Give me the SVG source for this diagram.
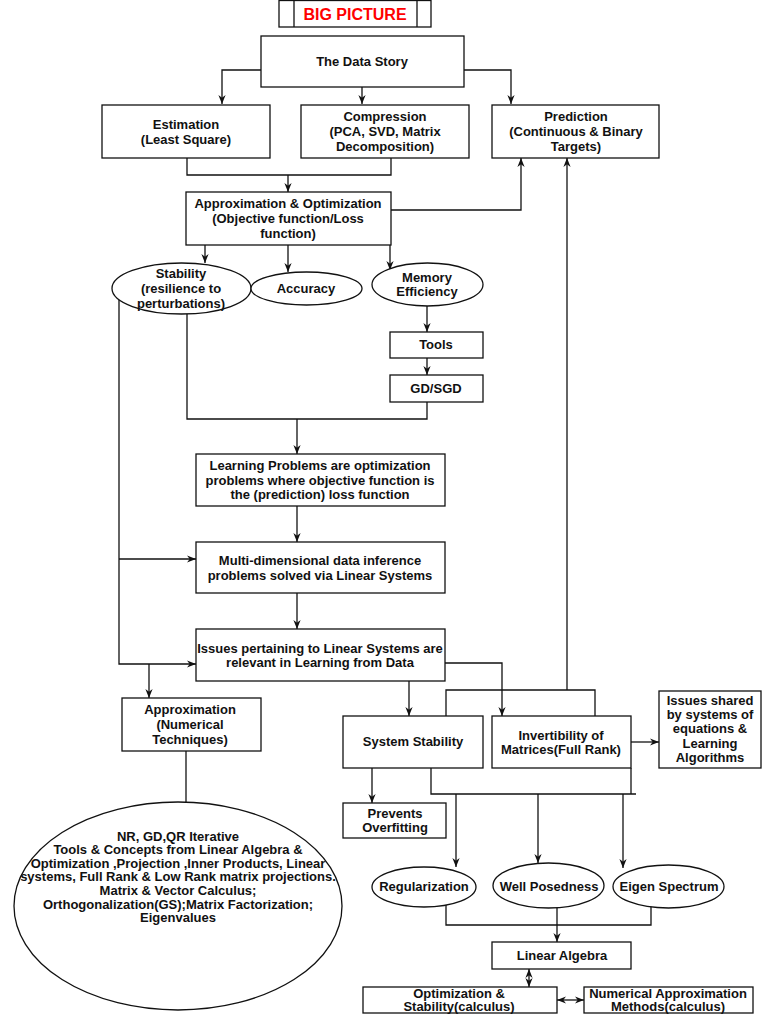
<svg xmlns="http://www.w3.org/2000/svg" width="768" height="1024" viewBox="0 0 768 1024">
<defs>
<marker id="a" viewBox="0 0 10 10" refX="10" refY="5" markerWidth="9" markerHeight="9" markerUnits="userSpaceOnUse" orient="auto-start-reverse">
<path d="M0,1 L10,5 L0,9 L3,5 z" fill="#111"/>
</marker>
<style>
rect,ellipse{fill:#fff;stroke:#111;stroke-width:1.3}
text{font-family:"Liberation Sans",Arial,sans-serif;font-size:13px;font-weight:bold;fill:#111;text-anchor:middle;dominant-baseline:central}
.c path{fill:none;stroke:#111;stroke-width:1.3}
.ar{marker-end:url(#a)}
.da{marker-start:url(#a);marker-end:url(#a)}
.t{font-size:16px;fill:#f00}
</style>
</defs>
<rect width="768" height="1024" style="fill:#fff;stroke:none"/>
<g class="c" id="connectors">
<path class="ar" d="M261,70 H222 V104"/>
<path class="ar" d="M362,87 V104"/>
<path class="ar" d="M464,70 H511 V104"/>
<path d="M187,158 V175 H391 V158"/>
<path class="ar" d="M288,175 V192"/>
<path class="ar" d="M391,210 H521 V158"/>
<path class="ar" d="M567,690 V158"/>
<path class="ar" d="M205,245 V263"/>
<path class="ar" d="M288,245 V272"/>
<path class="ar" d="M390,245 V270"/>
<path class="ar" d="M427,306 V332"/>
<path class="ar" d="M427,358 V375"/>
<path d="M427,402 V419 H187 V314"/>
<path class="ar" d="M297,419 V454"/>
<path class="ar" d="M297,506 V542"/>
<path class="ar" d="M297,593 V629"/>
<path class="ar" d="M119,300 V664 H196"/>
<path class="ar" d="M119,559 H196"/>
<path class="ar" d="M149,664 V698"/>
<path class="ar" d="M445,663 H502 V716"/>
<path class="ar" d="M409,681 V716"/>
<path d="M446,716 V690 H595 V716"/>
<path class="ar" d="M631,742 H659"/>
<path class="ar" d="M372,768 V803"/>
<path d="M431,768 V794 H636"/>
<path d="M631,768 V794"/>
<path class="ar" d="M456,794 V867"/>
<path class="ar" d="M538,794 V863"/>
<path class="ar" d="M623,794 V868"/>
<path d="M446,905 V925 H651 V906"/>
<path class="ar" d="M557,908 V942"/>
<path class="da" d="M529,969 V987"/>
<path class="da" d="M557,1000 H584"/>
<path d="M186,751 V802"/>
</g>
<g id="big-picture">
<rect x="279" y="0.5" width="152" height="26.5"/>
<path d="M294,0.5 V27 M417,0.5 V27" style="stroke:#111;stroke-width:1.3"/>
<text class="t" x="355" y="14">BIG PICTURE</text>
</g>
<g id="data-story">
<rect x="261" y="36" width="203" height="51"/>
<text x="362" y="61">The Data Story</text>
</g>
<g id="estimation">
<rect x="102" y="105" width="168" height="53"/>
<text x="186" y="124">Estimation</text>
<text x="186" y="139">(Least Square)</text>
</g>
<g id="compression">
<rect x="301" y="105" width="168" height="53"/>
<text x="385" y="116">Compression</text>
<text x="385" y="131">(PCA, SVD, Matrix</text>
<text x="385" y="146">Decomposition)</text>
</g>
<g id="prediction">
<rect x="492" y="105" width="167" height="53"/>
<text x="576" y="116">Prediction</text>
<text x="576" y="131">(Continuous &amp; Binary</text>
<text x="576" y="146">Targets)</text>
</g>
<g id="approx-opt">
<rect x="186" y="192" width="205" height="53"/>
<text x="288" y="203">Approximation &amp; Optimization</text>
<text x="288" y="218">(Objective function/Loss</text>
<text x="288" y="233">function)</text>
</g>
<g id="stability">
<ellipse cx="181.5" cy="288.5" rx="69.5" ry="25.5"/>
<text x="181" y="273">Stability</text>
<text x="181" y="288">(resilience to</text>
<text x="181" y="303">perturbations)</text>
</g>
<g id="accuracy">
<ellipse cx="306.5" cy="288.5" rx="55.5" ry="16.5"/>
<text x="306" y="288">Accuracy</text>
</g>
<g id="memory">
<ellipse cx="427.5" cy="284.5" rx="55.5" ry="21.5"/>
<text x="427" y="277">Memory</text>
<text x="427" y="291">Efficiency</text>
</g>
<g id="tools">
<rect x="390" y="332" width="93" height="26"/>
<text x="436" y="344">Tools</text>
</g>
<g id="gdsgd">
<rect x="390" y="375" width="93" height="27"/>
<text x="436" y="388">GD/SGD</text>
</g>
<g id="learning">
<rect x="196" y="454" width="249" height="52"/>
<text x="320" y="465">Learning Problems are optimization</text>
<text x="320" y="480">problems where objective function is</text>
<text x="320" y="494">the (prediction) loss function</text>
</g>
<g id="multi">
<rect x="196" y="542" width="249" height="51"/>
<text x="320" y="560">Multi-dimensional data inference</text>
<text x="320" y="575">problems solved via Linear Systems</text>
</g>
<g id="issues">
<rect x="196" y="629" width="249" height="52"/>
<text x="320" y="648">Issues pertaining to Linear Systems are</text>
<text x="320" y="662">relevant in Learning from Data</text>
</g>
<g id="approx-num">
<rect x="122" y="698" width="139" height="53"/>
<text x="190" y="709">Approximation</text>
<text x="190" y="724">(Numerical</text>
<text x="190" y="739">Techniques)</text>
</g>
<g id="tools-concepts">
<ellipse cx="178" cy="906" rx="164" ry="104"/>
<text x="178" y="836">NR, GD,QR Iterative</text>
<text x="178" y="849.6">Tools &amp; Concepts from Linear Algebra &amp;</text>
<text x="178" y="863.2">Optimization ,Projection ,Inner Products, Linear</text>
<text x="178" y="876.8">systems, Full Rank &amp; Low Rank matrix projections.</text>
<text x="178" y="890.4">Matrix &amp; Vector Calculus;</text>
<text x="178" y="904">Orthogonalization(GS);Matrix Factorization;</text>
<text x="178" y="917.6">Eigenvalues</text>
</g>
<g id="system-stability">
<rect x="343" y="716" width="140" height="52"/>
<text x="413" y="741">System Stability</text>
</g>
<g id="invertibility">
<rect x="492" y="716" width="139" height="52"/>
<text x="561" y="735">Invertibility of</text>
<text x="561" y="749">Matrices(Full Rank)</text>
</g>
<g id="issues-shared">
<rect x="659" y="691" width="102" height="77"/>
<text x="710" y="700">Issues shared</text>
<text x="710" y="714">by systems of</text>
<text x="710" y="728.5">equations &amp;</text>
<text x="710" y="743">Learning</text>
<text x="710" y="757.5">Algorithms</text>
</g>
<g id="prevents">
<rect x="343" y="803" width="103" height="35"/>
<text x="395" y="813">Prevents</text>
<text x="395" y="827">Overfitting</text>
</g>
<g id="regularization">
<ellipse cx="424" cy="887" rx="52" ry="20"/>
<text x="424" y="886">Regularization</text>
</g>
<g id="well-posedness">
<ellipse cx="548.5" cy="885.5" rx="55.5" ry="22.5"/>
<text x="549" y="886">Well Posedness</text>
</g>
<g id="eigen-spectrum">
<ellipse cx="668.5" cy="886.5" rx="55.5" ry="21.5"/>
<text x="669" y="886">Eigen Spectrum</text>
</g>
<g id="linear-algebra">
<rect x="492" y="942" width="139" height="27"/>
<text x="562" y="955">Linear Algebra</text>
</g>
<g id="optimization-stability">
<rect x="363" y="987" width="194" height="26"/>
<text x="459" y="993">Optimization &amp;</text>
<text x="459" y="1006">Stability(calculus)</text>
</g>
<g id="numerical-methods">
<rect x="584" y="987" width="169" height="26"/>
<text x="668" y="993">Numerical Approximation</text>
<text x="668" y="1006">Methods(calculus)</text>
</g>
</svg>
